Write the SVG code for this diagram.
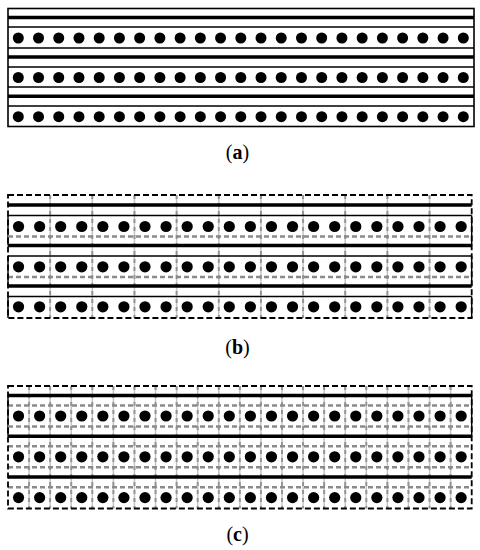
<svg xmlns="http://www.w3.org/2000/svg" xmlns:xlink="http://www.w3.org/1999/xlink" width="480" height="550" viewBox="0 0 480 550">
<style>
.thick{stroke:#000;stroke-width:3.5;fill:none}
.thin{stroke:#000;stroke-width:1.4;fill:none}
.border{stroke:#000;stroke-width:1.6;fill:none}
.dborder{stroke:#000;stroke-width:1.8;fill:none;stroke-dasharray:6 3}
.gh{stroke:#8a8a8a;stroke-width:2.4;fill:none;stroke-dasharray:5 3}
.gvl{stroke:#c4c4c4;stroke-width:1.5;fill:none}
.gv{stroke:#959595;stroke-width:2;fill:none;stroke-dasharray:4 4}
.lbl{font-family:"Liberation Serif","Times New Roman",serif;font-size:20px;fill:#000;text-anchor:middle}
</style>
<defs>
<g id="rowA" fill="#000">
<circle cx="18.3" cy="0" r="5.5"/><circle cx="38.53" cy="0" r="5.5"/><circle cx="58.75" cy="0" r="5.5"/><circle cx="78.98" cy="0" r="5.5"/><circle cx="99.21" cy="0" r="5.5"/><circle cx="119.44" cy="0" r="5.5"/><circle cx="139.66" cy="0" r="5.5"/><circle cx="159.89" cy="0" r="5.5"/><circle cx="180.12" cy="0" r="5.5"/><circle cx="200.34" cy="0" r="5.5"/><circle cx="220.57" cy="0" r="5.5"/><circle cx="240.8" cy="0" r="5.5"/><circle cx="261.02" cy="0" r="5.5"/><circle cx="281.25" cy="0" r="5.5"/><circle cx="301.48" cy="0" r="5.5"/><circle cx="321.71" cy="0" r="5.5"/><circle cx="341.93" cy="0" r="5.5"/><circle cx="362.16" cy="0" r="5.5"/><circle cx="382.39" cy="0" r="5.5"/><circle cx="402.61" cy="0" r="5.5"/><circle cx="422.84" cy="0" r="5.5"/><circle cx="443.07" cy="0" r="5.5"/><circle cx="463.3" cy="0" r="5.5"/>
</g>
<g id="rowB" fill="#000">
<circle cx="18.54" cy="0" r="5.6"/><circle cx="39.62" cy="0" r="5.6"/><circle cx="60.69" cy="0" r="5.6"/><circle cx="81.77" cy="0" r="5.6"/><circle cx="102.85" cy="0" r="5.6"/><circle cx="123.93" cy="0" r="5.6"/><circle cx="145.0" cy="0" r="5.6"/><circle cx="166.08" cy="0" r="5.6"/><circle cx="187.16" cy="0" r="5.6"/><circle cx="208.23" cy="0" r="5.6"/><circle cx="229.31" cy="0" r="5.6"/><circle cx="250.39" cy="0" r="5.6"/><circle cx="271.46" cy="0" r="5.6"/><circle cx="292.54" cy="0" r="5.6"/><circle cx="313.62" cy="0" r="5.6"/><circle cx="334.7" cy="0" r="5.6"/><circle cx="355.77" cy="0" r="5.6"/><circle cx="376.85" cy="0" r="5.6"/><circle cx="397.93" cy="0" r="5.6"/><circle cx="419.0" cy="0" r="5.6"/><circle cx="440.08" cy="0" r="5.6"/><circle cx="461.16" cy="0" r="5.6"/>
</g>
</defs>

<g id="panel-a">
<rect class="border" x="8" y="8.5" width="466" height="118"/>
<path class="thick" d="M8 17.5H474M8 57H474M8 96.3H474"/>
<path class="thin" d="M8 27H474M8 48H474M8 67H474M8 87H474M8 106H474"/>
<use xlink:href="#rowA" y="38"/>
<use xlink:href="#rowA" y="77.5"/>
<use xlink:href="#rowA" y="116.7"/>
<text class="lbl" x="237.5" y="159"><tspan>(</tspan><tspan font-weight="bold">a</tspan><tspan>)</tspan></text>
</g>

<g id="panel-b">
<path class="gvl" d="M50.15 195V318M92.31 195V318M134.46 195V318M176.62 195V318M218.77 195V318M260.92 195V318M303.08 195V318M345.23 195V318M387.39 195V318M429.54 195V318"/>
<path class="gv" d="M50.15 195V318M92.31 195V318M134.46 195V318M176.62 195V318M218.77 195V318M260.92 195V318M303.08 195V318M345.23 195V318M387.39 195V318M429.54 195V318"/>
<path class="thick" d="M8 205H471.7M8 245.5H471.7M8 286H471.7"/>
<path class="thin" d="M8 215.5H471.7M8 256H471.7M8 296.5H471.7M8 215.5V245.5M471.7 215.5V245.5M8 256V286M471.7 256V286M8 296.5V318M471.7 296.5V318"/>
<path class="gh" d="M8 236.5H471.7M8 277H471.7"/>
<rect class="dborder" x="8" y="195" width="463.7" height="123"/>
<use xlink:href="#rowB" y="226.5"/>
<use xlink:href="#rowB" y="266.8"/>
<use xlink:href="#rowB" y="306.8"/>
<text class="lbl" x="237.5" y="354"><tspan>(</tspan><tspan font-weight="bold">b</tspan><tspan>)</tspan></text>
</g>

<g id="panel-c">
<path class="gvl" d="M29.08 386V508.5M50.15 386V508.5M71.23 386V508.5M92.31 386V508.5M113.39 386V508.5M134.46 386V508.5M155.54 386V508.5M176.62 386V508.5M197.69 386V508.5M218.77 386V508.5M239.85 386V508.5M260.92 386V508.5M282 386V508.5M303.08 386V508.5M324.16 386V508.5M345.23 386V508.5M366.31 386V508.5M387.39 386V508.5M408.46 386V508.5M429.54 386V508.5M450.62 386V508.5"/>
<path class="gv" d="M29.08 386V508.5M50.15 386V508.5M71.23 386V508.5M92.31 386V508.5M113.39 386V508.5M134.46 386V508.5M155.54 386V508.5M176.62 386V508.5M197.69 386V508.5M218.77 386V508.5M239.85 386V508.5M260.92 386V508.5M282 386V508.5M303.08 386V508.5M324.16 386V508.5M345.23 386V508.5M366.31 386V508.5M387.39 386V508.5M408.46 386V508.5M429.54 386V508.5M450.62 386V508.5"/>
<path class="thick" d="M8 395.5H471.7M8 436.3H471.7M8 477H471.7"/>
<path class="thin" d="M8 395.5V436.3M471.7 395.5V436.3"/>
<path class="gh" d="M8 405.5H471.7M8 426.5H471.7M8 446.3H471.7M8 467.3H471.7M8 487.3H471.7"/>
<rect class="dborder" x="8" y="386" width="463.7" height="122.5"/>
<use xlink:href="#rowB" y="416"/>
<use xlink:href="#rowB" y="456.8"/>
<use xlink:href="#rowB" y="497.6"/>
<text class="lbl" x="237.5" y="541"><tspan>(</tspan><tspan font-weight="bold">c</tspan><tspan>)</tspan></text>
</g>
</svg>
